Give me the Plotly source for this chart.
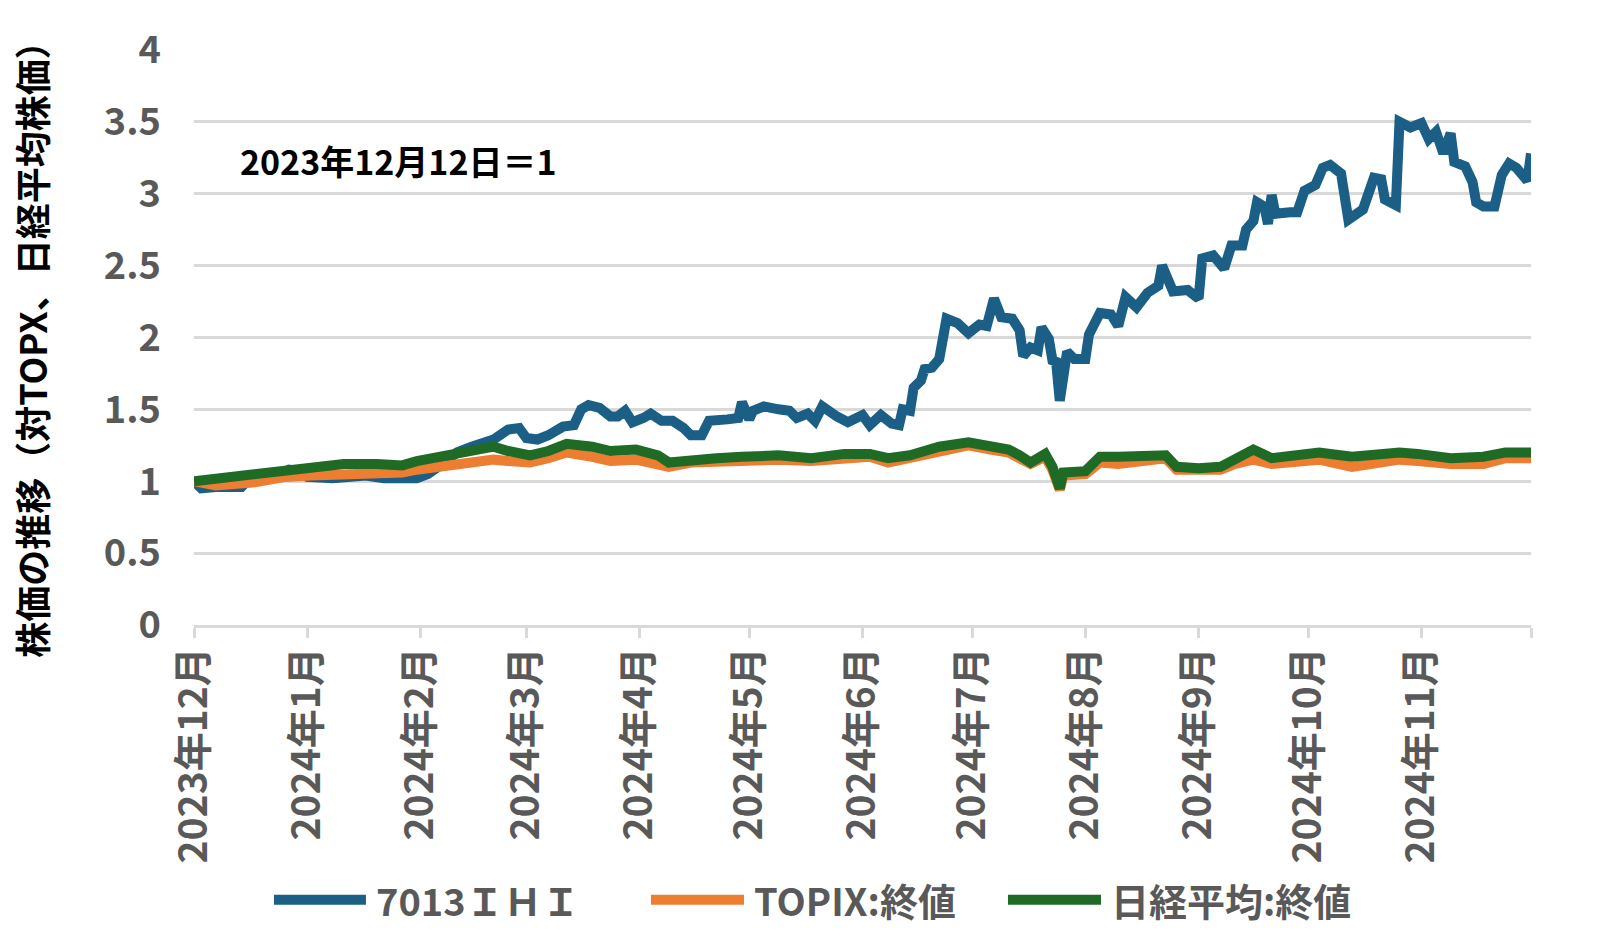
import plotly.graph_objects as go

# 7013 IHI relative price (2023-12-12 = 1)
ihi_dates = [
    "2023-12-12", "2023-12-14", "2023-12-18", "2023-12-25", "2023-12-28",
    "2024-01-04", "2024-01-07", "2024-01-10", "2024-01-12", "2024-01-19",
    "2024-01-28", "2024-02-02", "2024-02-11", "2024-02-14", "2024-02-18",
    "2024-02-22", "2024-02-26", "2024-03-03", "2024-03-07", "2024-03-10",
    "2024-03-12", "2024-03-15", "2024-03-18", "2024-03-22", "2024-03-25",
    "2024-03-27", "2024-03-29", "2024-04-01", "2024-04-04", "2024-04-06",
    "2024-04-08", "2024-04-10", "2024-04-13", "2024-04-15", "2024-04-18",
    "2024-04-21", "2024-04-24", "2024-04-26", "2024-04-29", "2024-05-01",
    "2024-05-06", "2024-05-09", "2024-05-10", "2024-05-12", "2024-05-13",
    "2024-05-16", "2024-05-20", "2024-05-23", "2024-05-25", "2024-05-28",
    "2024-05-30", "2024-06-01", "2024-06-05", "2024-06-08", "2024-06-12",
    "2024-06-14", "2024-06-17", "2024-06-20", "2024-06-22", "2024-06-23",
    "2024-06-25", "2024-06-26", "2024-06-28", "2024-06-29", "2024-07-01",
    "2024-07-03", "2024-07-05", "2024-07-08", "2024-07-11", "2024-07-14",
    "2024-07-16", "2024-07-18", "2024-07-20", "2024-07-23", "2024-07-25",
    "2024-07-26", "2024-07-28", "2024-07-30", "2024-07-31", "2024-08-02",
    "2024-08-03", "2024-08-04", "2024-08-05", "2024-08-07", "2024-08-09",
    "2024-08-12", "2024-08-13", "2024-08-16", "2024-08-19", "2024-08-21",
    "2024-08-23", "2024-08-26", "2024-08-29", "2024-09-01", "2024-09-02",
    "2024-09-05", "2024-09-09", "2024-09-12", "2024-09-13", "2024-09-16",
    "2024-09-19", "2024-09-21", "2024-09-24", "2024-09-25", "2024-09-27",
    "2024-09-28", "2024-09-30", "2024-10-01", "2024-10-02", "2024-10-03",
    "2024-10-07", "2024-10-09", "2024-10-11", "2024-10-14", "2024-10-16",
    "2024-10-18", "2024-10-21", "2024-10-23", "2024-10-27", "2024-10-30",
    "2024-11-01", "2024-11-02", "2024-11-05", "2024-11-06", "2024-11-09",
    "2024-11-12", "2024-11-14", "2024-11-16", "2024-11-18", "2024-11-20",
    "2024-11-21", "2024-11-24", "2024-11-26", "2024-11-27", "2024-11-29",
    "2024-12-02", "2024-12-04", "2024-12-06", "2024-12-08", "2024-12-11",
    "2024-12-12",
]
ihi_vals = [
    1.00, 0.95, 0.96, 0.96, 1.04,
    1.04, 1.08, 1.07, 1.03, 1.02,
    1.04, 1.02, 1.02, 1.05, 1.12,
    1.20, 1.24, 1.29, 1.36, 1.37,
    1.30, 1.29, 1.32, 1.38, 1.39,
    1.50, 1.53, 1.51, 1.45, 1.45,
    1.49, 1.41, 1.44, 1.47, 1.42,
    1.42, 1.37, 1.32, 1.32, 1.42,
    1.43, 1.44, 1.55, 1.43, 1.49,
    1.52, 1.50, 1.49, 1.44, 1.47,
    1.42, 1.52, 1.45, 1.41, 1.46,
    1.39, 1.46, 1.40, 1.39, 1.50,
    1.49, 1.65, 1.70, 1.78, 1.79,
    1.85, 2.13, 2.10, 2.03, 2.09,
    2.08, 2.27, 2.14, 2.13, 2.05,
    1.87, 1.93, 1.91, 2.07, 1.99,
    1.84, 1.83, 1.56, 1.90, 1.85,
    1.85, 2.02, 2.17, 2.16, 2.08,
    2.28, 2.21, 2.31, 2.36, 2.50,
    2.32, 2.33, 2.27, 2.55, 2.57,
    2.48, 2.64, 2.64, 2.75, 2.81,
    2.94, 2.91, 2.79, 2.99, 2.86,
    2.87, 2.87, 3.02, 3.06, 3.18,
    3.20, 3.14, 2.82, 2.89, 3.11,
    3.10, 2.96, 2.92, 3.50, 3.46,
    3.49, 3.38, 3.43, 3.28, 3.42,
    3.22, 3.19, 3.08, 2.94, 2.91,
    2.91, 3.13, 3.21, 3.18, 3.09,
    3.28,
]

# TOPIX / Nikkei 225 relative level (same dates)
idx_dates = [
    "2023-12-12", "2023-12-18", "2023-12-28", "2024-01-06", "2024-01-13",
    "2024-01-22", "2024-01-31", "2024-02-07", "2024-02-11", "2024-02-17",
    "2024-02-25", "2024-03-03", "2024-03-07", "2024-03-13", "2024-03-18",
    "2024-03-23", "2024-03-30", "2024-04-04", "2024-04-11", "2024-04-17",
    "2024-04-20", "2024-04-26", "2024-05-03", "2024-05-10", "2024-05-20",
    "2024-05-29", "2024-06-07", "2024-06-14", "2024-06-19", "2024-06-25",
    "2024-06-29", "2024-07-03", "2024-07-11", "2024-07-17", "2024-07-22",
    "2024-07-25", "2024-07-28", "2024-08-01", "2024-08-03", "2024-08-05",
    "2024-08-06", "2024-08-12", "2024-08-16", "2024-08-21", "2024-08-26",
    "2024-09-03", "2024-09-06", "2024-09-12", "2024-09-18", "2024-09-22",
    "2024-09-27", "2024-10-02", "2024-10-11", "2024-10-15", "2024-10-24",
    "2024-10-30", "2024-11-06", "2024-11-11", "2024-11-20", "2024-11-29",
    "2024-12-05", "2024-12-12",
]
topix_vals = [
    1.00, 0.97, 0.99, 1.03, 1.04,
    1.05, 1.05, 1.06, 1.08, 1.10,
    1.14, 1.15, 1.14, 1.13, 1.16,
    1.20, 1.17, 1.14, 1.15, 1.12,
    1.10, 1.13, 1.14, 1.14, 1.15,
    1.14, 1.16, 1.17, 1.13, 1.16,
    1.19, 1.21, 1.25, 1.22, 1.20,
    1.16, 1.12, 1.17, 1.08, 0.94,
    1.04, 1.05, 1.13, 1.12, 1.13,
    1.16, 1.08, 1.08, 1.08, 1.12,
    1.15, 1.12, 1.13, 1.15, 1.10,
    1.12, 1.15, 1.14, 1.12, 1.12,
    1.16, 1.16,
]
nikkei_vals = [
    1.00, 1.02, 1.04, 1.07, 1.10,
    1.12, 1.12, 1.11, 1.14, 1.17,
    1.21, 1.24, 1.21, 1.18, 1.21,
    1.26, 1.24, 1.21, 1.22, 1.18,
    1.13, 1.15, 1.16, 1.17, 1.18,
    1.16, 1.19, 1.19, 1.16, 1.18,
    1.21, 1.24, 1.27, 1.25, 1.22,
    1.18, 1.13, 1.19, 1.10, 0.95,
    1.06, 1.07, 1.17, 1.17, 1.17,
    1.18, 1.10, 1.09, 1.10, 1.15,
    1.22, 1.16, 1.19, 1.20, 1.17,
    1.18, 1.20, 1.19, 1.16, 1.17,
    1.20, 1.20,
]

series_names = ["7013ＩＨＩ", "TOPIX:終値", "日経平均:終値"]
series_colors = ["#1B5E86", "#ED7D31", "#1F6B25"]

tick_dates = [
    "2023-12-12", "2024-01-12", "2024-02-12", "2024-03-12", "2024-04-12",
    "2024-05-12", "2024-06-12", "2024-07-12", "2024-08-12", "2024-09-12",
    "2024-10-12", "2024-11-12", "2024-12-12",
]
tick_labels = [
    "2023年12月", "2024年1月", "2024年2月", "2024年3月", "2024年4月",
    "2024年5月", "2024年6月", "2024年7月", "2024年8月", "2024年9月",
    "2024年10月", "2024年11月", "",
]

FONT = "Noto Sans CJK JP"
GRAY = "#595959"
GRID = "#D9D9D9"

fig = go.Figure()
fig.add_trace(go.Scatter(x=ihi_dates, y=ihi_vals, mode="lines", name=series_names[0],
                         line=dict(color=series_colors[0], width=10)))
fig.add_trace(go.Scatter(x=idx_dates, y=topix_vals, mode="lines", name=series_names[1],
                         line=dict(color=series_colors[1], width=10)))
fig.add_trace(go.Scatter(x=idx_dates, y=nikkei_vals, mode="lines", name=series_names[2],
                         line=dict(color=series_colors[2], width=10)))

fig.update_layout(
    width=1600, height=950,
    margin=dict(l=186, r=77, t=41, b=333),
    paper_bgcolor="white", plot_bgcolor="white",
    showlegend=False,
    font=dict(family=FONT, color=GRAY),
)
fig.update_xaxes(
    type="date", range=["2023-12-12", "2024-12-12"],
    tickmode="array", tickvals=tick_dates, ticktext=tick_labels,
    tickangle=-90, tickfont=dict(family=FONT, size=39, color=GRAY, weight="bold"),
    showgrid=False, showline=True, linecolor=GRID, linewidth=2.5,
    ticks="outside", ticklen=10, tickcolor=GRID, tickwidth=2.5,
    ticklabelstandoff=-6,
)
fig.update_yaxes(
    range=[0, 4.006], tickvals=[0, 0.5, 1, 1.5, 2, 2.5, 3, 3.5, 4],
    ticktext=["0", "0.5", "1", "1.5", "2", "2.5", "3", "3.5", "4"],
    tickfont=dict(family=FONT, size=38, color=GRAY, weight="bold"),
    showgrid=True, gridcolor=GRID, gridwidth=2.5,
    zeroline=False, showline=False, ticks="", ticklabelstandoff=32,
)

# y axis title
fig.add_annotation(
    xref="paper", yref="paper", x=-0.122, y=0.495, xanchor="center", yanchor="middle",
    text="株価の推移（対TOPX、日経平均株価）", textangle=-90, showarrow=False,
    font=dict(family=FONT, size=36, color="black", weight="bold"),
)
# base note
fig.add_annotation(
    xref="paper", yref="paper", x=0.033, y=0.806, xanchor="left", yanchor="middle",
    text="2023年12月12日＝1", showarrow=False,
    font=dict(family=FONT, size=34, color="black", weight="bold"),
)

# legend drawn below the axis
legend_x = [(0.0598, 0.1286), (0.3418, 0.4114), (0.6088, 0.6784)]
legend_y = -0.477
for (x0, x1), name, color in zip(legend_x, series_names, series_colors):
    fig.add_shape(type="line", xref="paper", yref="paper", x0=x0, x1=x1,
                  y0=legend_y, y1=legend_y, line=dict(color=color, width=10))
    fig.add_annotation(
        xref="paper", yref="paper", x=x1 + 0.006, y=legend_y, xanchor="left", yanchor="middle",
        text=name, showarrow=False,
        font=dict(family=FONT, size=38, color=GRAY, weight="bold"),
    )

fig.write_html("out.html")
